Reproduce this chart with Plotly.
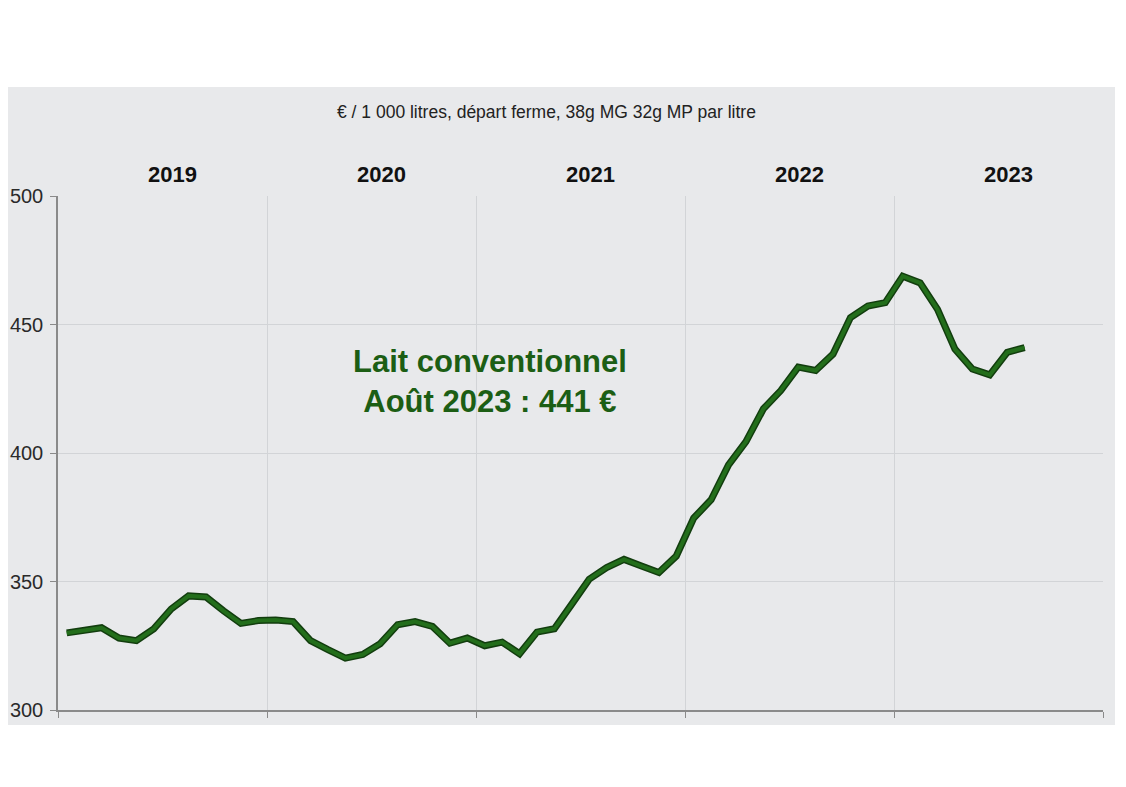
import plotly.graph_objects as go

years = ["2019", "2020", "2021", "2022", "2023"]
prix = [
    330, 331, 332, 328, 327, 331.6, 339.3, 344.4, 344, 338.6, 333.7, 334.8,   # 2019
    335, 334.4, 327, 323.5, 320.2, 321.6, 325.8, 333.2, 334.4, 332.5, 326, 328,  # 2020
    325, 326.4, 321.9, 330.3, 331.6, 341.2, 350.9, 355.4, 358.6, 356, 353.5, 359.9,  # 2021
    374.7, 381.8, 395.4, 404.4, 417.2, 424.3, 433.4, 432.1, 438.5, 452.7, 457.2, 458.5,  # 2022
    468.8, 466.2, 455.9, 440.4, 432.7, 430.4, 439.2, 441,  # 2023 (Jan-Aug)
]
mois = [i + 0.5 for i in range(len(prix))]
y_ticks = [300, 350, 400, 450, 500]
subtitle = "€ / 1 000 litres, départ ferme, 38g MG 32g MP par litre"
note = "Lait conventionnel<br>Août 2023 : 441 €"

OFF = 8  # page body margin
W, H = 1126 - OFF, 787 - OFF
L, R, T, B = 58 - OFF, 1103 - OFF, 196 - OFF, 710 - OFF
pw, ph = R - L, B - T


def px(xw):
    return (xw - OFF - L) / pw


def py(yw):
    return (B - (yw - OFF)) / ph


fig = go.Figure()
fig.add_trace(go.Scatter(x=mois, y=prix, mode="lines",
                         line=dict(color="#123d0e", width=7), hoverinfo="skip"))
fig.add_trace(go.Scatter(x=mois, y=prix, mode="lines",
                         line=dict(color="#236e1b", width=4)))

# grey panel behind the chart
fig.add_shape(type="rect", xref="paper", yref="paper",
              x0=px(5), x1=px(1115), y0=py(725), y1=py(87),
              fillcolor="#e8e9eb", line=dict(width=0), layer="below")

for k, yr in enumerate(years):
    fig.add_annotation(x=12 * k + 6, y=py(175), xref="x", yref="paper",
                       yanchor="middle", xanchor="center", xshift=9.5,
                       text="<b>" + yr + "</b>", showarrow=False,
                       font=dict(family="Liberation Sans, Arial", size=22, color="#111111"))

fig.add_annotation(x=px(546), y=py(112), xref="paper", yref="paper",
                   yanchor="middle", xanchor="center",
                   text=subtitle, showarrow=False,
                   font=dict(family="Liberation Sans, Arial", size=17.5, color="#222222"))

fig.add_annotation(x=px(490), y=py(381), xref="paper", yref="paper",
                   yanchor="middle", xanchor="center",
                   text="<b>" + note + "</b>", showarrow=False, align="center",
                   font=dict(family="Liberation Sans, Arial", size=31, color="#1c5e14"))

fig.update_layout(
    width=W, height=H,
    margin=dict(l=L, r=W - R, t=T, b=H - B, pad=0, autoexpand=False),
    paper_bgcolor="white",
    plot_bgcolor="#e8e9eb",
    showlegend=False,
    xaxis=dict(range=[0, 60], tickvals=[0, 12, 24, 36, 48, 60], ticktext=[""] * 6,
               showgrid=True, gridcolor="#d2d4d7", gridwidth=1,
               showline=True, linecolor="#8a8a8a", linewidth=1.5, automargin=False,
               ticks="outside", ticklen=6, tickcolor="#8a8a8a", zeroline=False),
    yaxis=dict(range=[300, 500], tickvals=y_ticks,
               showgrid=True, gridcolor="#d2d4d7", gridwidth=1,
               showline=True, linecolor="#8a8a8a", linewidth=1.5, automargin=False,
               ticks="outside", ticklen=6, tickcolor="#8a8a8a", zeroline=False,
               tickfont=dict(family="Liberation Sans, Arial", size=20, color="#2a2a2a"),
               ticklabelstandoff=3),
)

fig.write_html("out.html")
